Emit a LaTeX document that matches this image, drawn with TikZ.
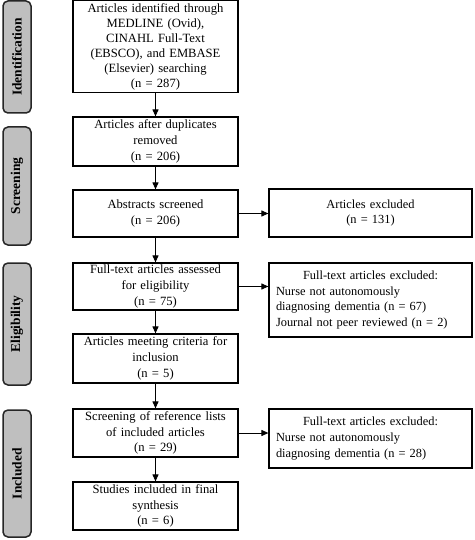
\documentclass[tikz,border=0pt]{standalone}
\usepackage{fontspec}
\setmainfont{Liberation Serif}
\usetikzlibrary{arrows.meta}
\begin{document}
\begin{tikzpicture}[x=1pt,y=-1pt,
  mainbox/.style={draw=black,line width=1.2pt,minimum width=165pt,text width=160pt,align=center,inner sep=0pt,font=\fontsize{12.6}{15.6}\selectfont},
  sidebox/.style={draw=black,line width=1.2pt,minimum width=203pt,text width=189pt,inner sep=0pt,font=\fontsize{12.4}{15.6}\selectfont},
  phase/.style={draw=black!85,line width=1.5pt,fill=black!25,rounded corners=5pt,minimum width=28pt,inner sep=0pt},
  phasetext/.style={rotate=90,font=\fontsize{13.5}{15}\selectfont\bfseries},
  arr/.style={line width=1pt,-{Triangle[length=7pt,width=6pt]}}]
\useasboundingbox (0,0) rectangle (474,540);
% phase labels
\node[phase,minimum height=112pt] (p1) at (17,57) {};
\node[phasetext] (t1) at (p1.center) {Identification};
\node[phase,minimum height=118pt] (p2) at (17,186) {};
\node[phasetext] (t2) at (p2.center) {Screening};
\node[phase,minimum height=122pt] (p3) at (17,324) {};
\node[phasetext] (t3) at (p3.center) {Eligibility};
\node[phase,minimum height=127pt] (p4) at (17,473.5) {};
\node[phasetext] (t4) at (p4.center) {Included};
% main boxes
\node[mainbox,minimum height=92pt,font=\fontsize{12.6}{15}\selectfont] (b1) at (155.5,46.5) {Articles identified through\\MEDLINE (Ovid),\\CINAHL Full-Text\\(EBSCO), and EMBASE\\(Elsevier) searching\\(n = 287)};
\node[mainbox,minimum height=49pt] (b2) at (155.5,141.5) {Articles after duplicates\\removed\\(n = 206)};
\node[mainbox,minimum height=47pt] (b3) at (155.5,213.5) {Abstracts screened\\(n = 206)};
\node[mainbox,minimum height=47pt] (b4) at (155.5,286.5) {Full-text articles assessed\\for eligibility\\(n = 75)};
\node[mainbox,minimum height=49pt] (b5) at (155.5,358.5) {Articles meeting criteria for\\inclusion\\(n = 5)};
\node[mainbox,minimum height=48pt] (b6) at (155.5,433) {Screening of reference lists\\of included articles\\(n = 29)};
\node[mainbox,minimum height=48pt] (b7) at (155.5,506) {Studies included in final\\synthesis\\(n = 6)};
% side boxes
\node[sidebox,align=center,minimum height=48pt] (s1) at (370.5,213) {Articles excluded\\(n = 131)};
\node[sidebox,align=left,minimum height=74pt] (s2) at (370.5,300) {\makebox[\linewidth]{Full-text articles excluded:}\\Nurse not autonomously\\diagnosing dementia (n = 67)\\Journal not peer reviewed (n = 2)};
\node[sidebox,align=left,minimum height=59pt] (s3) at (370.5,438.5) {\makebox[\linewidth]{Full-text articles excluded:}\\Nurse not autonomously\\diagnosing dementia (n = 28)};
% arrows
\draw[arr] (b1) -- (b2);
\draw[arr] (b2) -- (b3);
\draw[arr] (b3) -- (b4);
\draw[arr] (b4) -- (b5);
\draw[arr] (b5) -- (b6);
\draw[arr] (b6) -- (b7);
\draw[arr] (b3.east) -- (b3.east -| s1.west);
\draw[arr] (b4.east) -- (b4.east -| s2.west);
\draw[arr] (b6.east) -- (b6.east -| s3.west);
\end{tikzpicture}
\end{document}
